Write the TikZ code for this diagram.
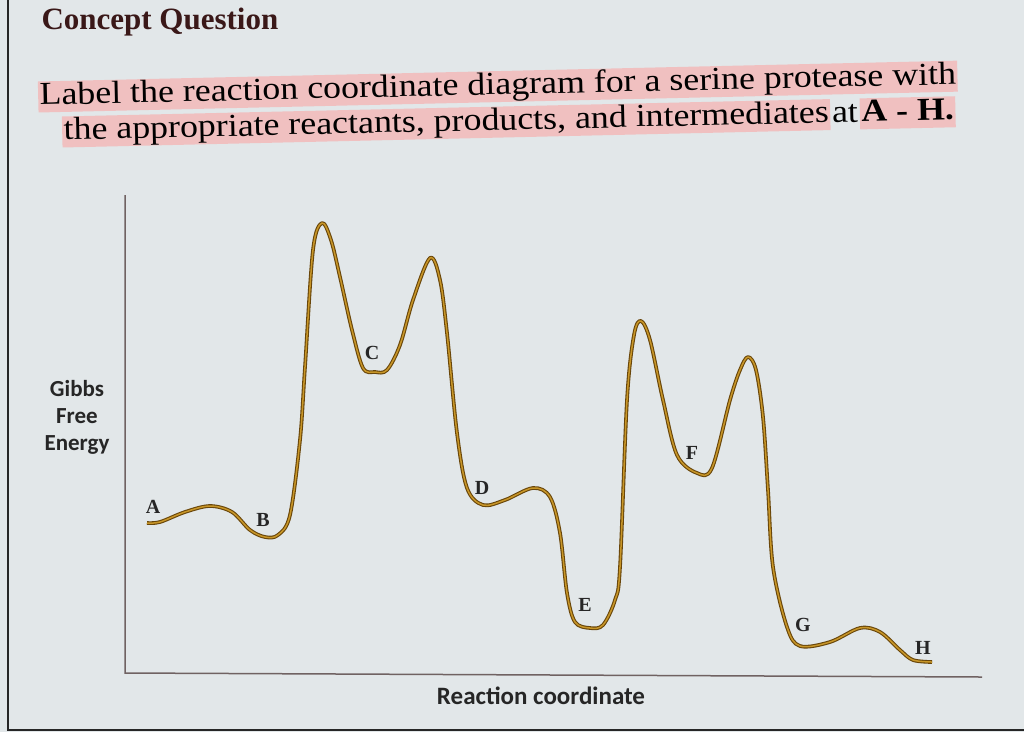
\documentclass[tikz,border=0pt]{standalone}
\usepackage{fontspec}
\setmainfont{Liberation Serif}
\newfontfamily\slidefont[FakeStretch=1.12]{Liberation Serif}
\newfontfamily\axisfont{Carlito}
\usetikzlibrary{positioning}
\definecolor{slide}{RGB}{226,231,233}
\definecolor{maroon}{RGB}{58,24,24}
\definecolor{hilite}{RGB}{240,192,192}
\definecolor{curveedge}{RGB}{105,70,10}
\definecolor{curvegold}{RGB}{200,150,40}
\definecolor{axisgray}{RGB}{112,98,98}

\begin{document}
\begin{tikzpicture}[x=1pt,y=-1pt,
  hl/.style={fill=hilite,inner sep=1.5pt,anchor=west,rotate=1.3,text height=22pt,text depth=6pt,font=\slidefont\fontsize{32}{32}\selectfont},
  pt/.style={font=\fontsize{20}{20}\selectfont\bfseries,text=black!85},
  axlabel/.style={font=\axisfont\fontsize{23}{27}\selectfont\bfseries,align=center,text=black!85}]
\useasboundingbox (0,0) rectangle (1024,732);
\fill[slide] (0,0) rectangle (1024,732);
\draw[line width=2.5pt,black!85] (8,0)--(8,730)--(1024,730);

\node[anchor=west,text=maroon,font=\fontsize{31}{31}\selectfont\bfseries] (title) at (38,22) {Concept Question};
\node[hl] (line1) at (38,97) {Label the reaction coordinate diagram for a serine protease with};
\node[hl] (line2) at (62,132) {the appropriate reactants, products, and intermediates};
\node[hl,fill=none] (at) at (line2.east) {at};
\node[hl,font=\slidefont\fontsize{32}{32}\selectfont\bfseries] (range) at (at.east) {A - H.};

\coordinate (ytop) at (125,195);
\coordinate (origin) at (125,673);
\coordinate (xend) at (982,677);
\draw[axisgray,line width=1.5pt] (ytop)--(origin)--(xend);
\node[axlabel] (gfe) at (77,417) {Gibbs\\Free\\Energy};
\node[axlabel,font=\axisfont\fontsize{25}{27}\selectfont\bfseries] (rc) at (541,696) {Reaction coordinate};

\draw[draw=curveedge,double=curvegold,double distance=1.5pt,line width=1.1pt,line join=round]
  plot[smooth,tension=0.55] coordinates {(147,523) (160,522) (185,512) (210,506) (232,512) (250,530)
  (265,537) (278,535) (290,515) (300,440) (305,367) (313,250) (322,223) (331,240) (340,277)
  (352,330) (363,368) (375,372) (387,370) (400,345) (413,300) (430,258) (440,280) (447,333)
  (457,433) (467,488) (483,505) (505,500) (533,488) (550,497) (560,533) (567,593) (575,622)
  (590,628) (603,625) (615,600) (620,567) (627,400) (634,335) (641,321) (650,340) (663,400)
  (677,455) (697,473) (712,468) (730,400) (740,370) (748,357) (756,370) (763,417) (768,490)
  (773,567) (787,627) (800,646) (830,642) (860,628) (880,632) (900,650) (913,660) (932,662)};

\node[pt] (A) at (153,507) {A};
\node[pt] (B) at (263,520) {B};
\node[pt] (C) at (372,353) {C};
\node[pt] (D) at (482,488) {D};
\node[pt] (E) at (585,605) {E};
\node[pt] (F) at (692,453) {F};
\node[pt] (G) at (803,625) {G};
\node[pt] (H) at (923,648) {H};
\end{tikzpicture}
\end{document}
